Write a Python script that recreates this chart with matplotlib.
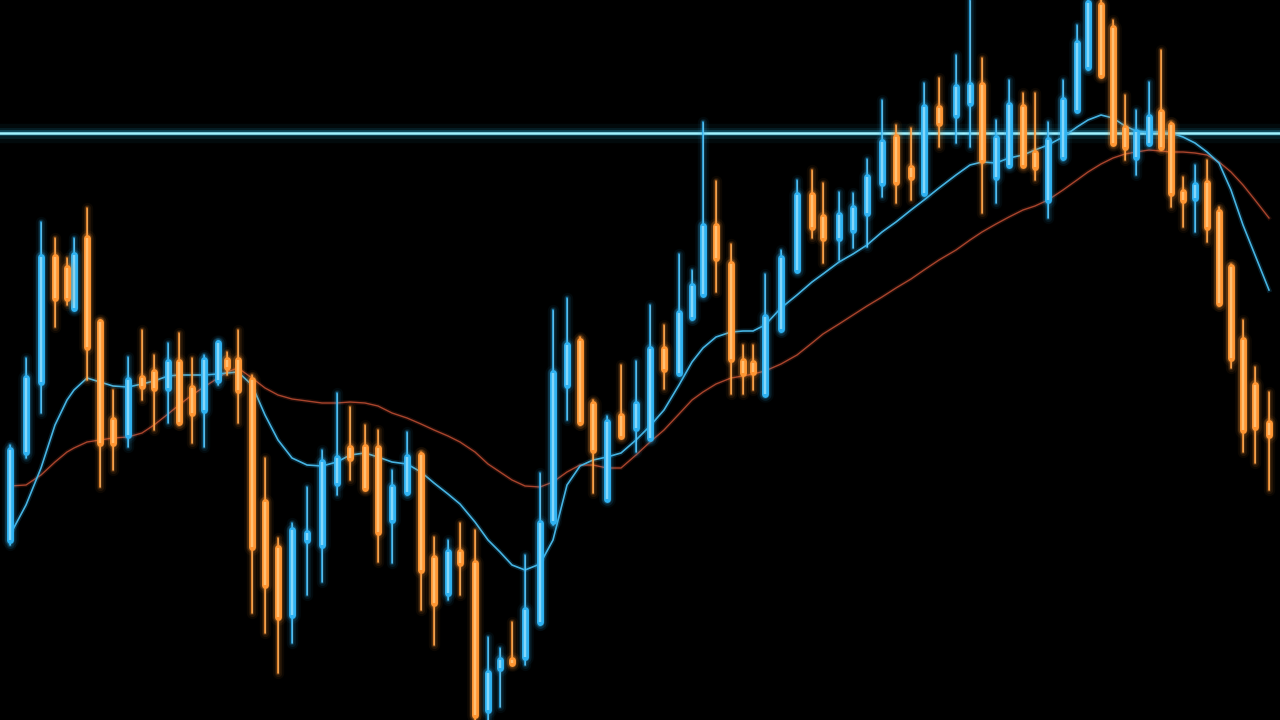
import numpy as np
import matplotlib.pyplot as plt

# Séances (axe du temps) et cours OHLC
t = [10, 26, 41, 55, 67, 74, 87, 100, 113, 128, 142, 154, 168, 179, 192, 204, 218, 227, 238, 252,
     265, 278, 292, 307, 322, 337, 350, 365, 378, 392, 407, 421, 434, 448, 460, 475, 488, 500, 512, 525,
     540, 553, 567, 580, 593, 607, 621, 636, 650, 664, 679, 692, 703, 716, 731, 743, 753, 765, 781, 797,
     812, 823, 839, 853, 867, 882, 896, 911, 924, 939, 956, 970, 982, 996, 1009, 1023, 1035, 1048, 1063, 1077,
     1088, 1101, 1113, 1125, 1136, 1149, 1161, 1171, 1183, 1195, 1207, 1219, 1231, 1243, 1255, 1269]
opens = [180, 268, 338, 463, 452, 412, 482, 398, 300, 285, 342, 348, 332, 358, 332, 310, 340, 360, 360, 340,
         218, 172, 105, 180, 175, 237, 272, 273, 272, 200, 228, 265, 162, 127, 168, 157, 10, 52, 60, 63,
         98, 199, 335, 379, 316, 221, 304, 292, 282, 371, 347, 403, 426, 494, 456, 359, 357, 326, 391, 450,
         525, 503, 482, 490, 507, 537, 583, 552, 527, 612, 605, 617, 635, 543, 555, 613, 567, 520, 563, 610,
         653, 715, 692, 592, 563, 577, 608, 595, 528, 522, 537, 508, 453, 380, 335, 297]
highs = [275, 362, 498, 482, 462, 482, 512, 400, 330, 363, 390, 365, 377, 387, 362, 365, 379, 368, 390, 345,
         262, 182, 197, 233, 270, 327, 313, 295, 290, 250, 288, 268, 183, 180, 197, 190, 83, 72, 98, 165,
         247, 410, 422, 383, 320, 304, 355, 359, 415, 395, 466, 450, 598, 539, 476, 375, 375, 446, 470, 540,
         550, 537, 528, 527, 561, 620, 595, 592, 637, 642, 665, 720, 662, 600, 640, 627, 627, 598, 640, 695,
         720, 720, 700, 625, 610, 638, 670, 598, 543, 555, 560, 513, 456, 400, 353, 328]
lows = [175, 262, 307, 393, 415, 410, 340, 233, 250, 273, 320, 290, 297, 295, 277, 273, 335, 345, 297, 107,
        87, 47, 77, 125, 138, 225, 240, 230, 158, 157, 225, 110, 75, 120, 125, 0, 0, 13, 55, 55,
        95, 195, 300, 295, 227, 220, 282, 268, 280, 331, 345, 400, 424, 428, 326, 326, 330, 325, 388, 448,
        482, 457, 460, 472, 473, 523, 517, 520, 525, 573, 577, 573, 507, 517, 553, 553, 540, 502, 560, 608,
        650, 643, 575, 560, 545, 575, 570, 513, 493, 488, 478, 414, 352, 268, 257, 230]
closes = [270, 342, 463, 422, 422, 465, 373, 277, 277, 340, 334, 332, 358, 298, 307, 360, 377, 353, 330, 173,
          135, 103, 190, 187, 258, 262, 262, 232, 188, 233, 263, 150, 117, 168, 157, 5, 47, 60, 57, 110,
          197, 347, 375, 298, 270, 298, 284, 316, 371, 351, 407, 434, 494, 462, 361, 347, 348, 403, 462, 525,
          493, 482, 505, 512, 543, 578, 538, 543, 613, 597, 633, 635, 560, 582, 615, 555, 553, 580, 620, 677,
          717, 645, 577, 573, 588, 603, 573, 527, 520, 535, 493, 417, 362, 290, 293, 285]

# Moyennes mobiles (rapide et lente)
ma_fast = [185, 215, 252, 295, 320, 330, 342, 338, 334, 333, 336, 339, 344, 345, 345, 345, 346, 347, 348, 335,
           305, 280, 262, 255, 254, 258, 265, 267, 263, 258, 256, 248, 237, 226, 216, 198, 180, 168, 155, 150,
           156, 180, 235, 254, 260, 263, 267, 280, 294, 310, 335, 358, 372, 383, 388, 389, 389, 395, 412, 425,
           438, 446, 458, 466, 475, 488, 498, 510, 520, 532, 545, 555, 558, 557, 562, 565, 570, 575, 583, 593,
           600, 605, 602, 594, 589, 588, 588, 587, 583, 577, 568, 557, 530, 495, 465, 430]
ma_slow = [234, 235, 245, 258, 268, 272, 278, 280, 282, 283, 287, 295, 306, 315, 325, 333, 342, 348, 352, 342,
           332, 325, 321, 319, 317, 317, 318, 317, 314, 307, 302, 296, 290, 284, 278, 268, 256, 248, 240, 234,
           233, 238, 248, 255, 255, 252, 252, 265, 278, 290, 306, 320, 328, 336, 342, 344, 346, 349, 356, 365,
           377, 386, 396, 405, 414, 423, 432, 441, 450, 460, 470, 480, 488, 496, 503, 510, 514, 520, 530, 540,
           548, 556, 562, 566, 568, 570, 569, 568, 568, 567, 565, 558, 548, 535, 520, 502]

# Niveau de résistance
resistance = 587

t = np.array(t)
opens, highs, lows, closes = map(np.array, (opens, highs, lows, closes))
up = closes >= opens

bleu, bleu_clair = '#2fb2f2', '#a8e8ff'
orange, orange_clair = '#ff9633', '#ffd28f'

fig = plt.figure(figsize=(12.8, 7.2), dpi=100, facecolor='black')
ax = fig.add_axes([0, 0, 1, 1])
ax.set_facecolor('black')
ax.set_xlim(0, 1280)
ax.set_ylim(0, 720)
ax.axis('off')


def lueur(x, y0, y1, couleur, coeur, lw):
    # halo doux autour du trait puis trait plein
    for extra, a in [(7, 0.05), (4, 0.09), (2, 0.18)]:
        ax.vlines(x, y0, y1, color=couleur, lw=lw + extra, alpha=a, capstyle='round')
    ax.vlines(x, y0, y1, color=couleur, lw=lw, capstyle='round')
    ax.vlines(x, y0, y1, color=coeur, lw=lw * 0.35, alpha=0.7)


# Ligne de résistance
for lw, a in [(14, 0.05), (8, 0.10), (4, 0.25)]:
    ax.axhline(resistance, color='#29c6ff', lw=lw, alpha=a)
ax.axhline(resistance, color='#9ff2ff', lw=1.8)

# Moyennes mobiles
ax.plot(t, ma_slow, color='#9c3a26', lw=3, alpha=0.2)
ax.plot(t, ma_slow, color='#a8442c', lw=1.0)
ax.plot(t, ma_fast, color='#2aa6e0', lw=3.5, alpha=0.18)
ax.plot(t, ma_fast, color='#46b4e2', lw=1.2)

# Bougies
for m, c, cc in [(up, bleu, bleu_clair), (~up, orange, orange_clair)]:
    lueur(t[m], lows[m], highs[m], c, cc, 1.2)
    lo = np.minimum(opens[m], closes[m])
    hi = np.maximum(opens[m], closes[m])
    hi = np.maximum(hi, lo + 3)
    lueur(t[m], lo, hi, c, cc, 5.0)

fig.savefig('out.png', dpi=100, facecolor='black')
